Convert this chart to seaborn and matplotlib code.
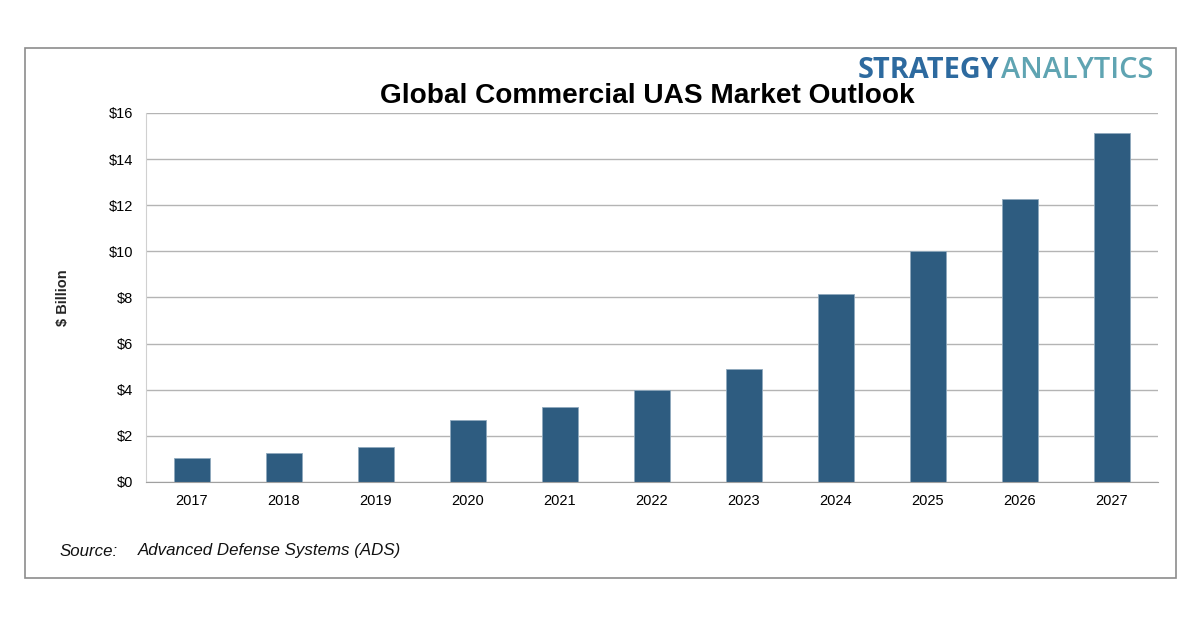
import pandas as pd
import matplotlib.pyplot as plt
import seaborn as sns
from matplotlib.patches import Rectangle

years = ['2017', '2018', '2019', '2020', '2021', '2022', '2023', '2024', '2025', '2026', '2027']
market = [1.04, 1.26, 1.52, 2.68, 3.25, 4.0, 4.9, 8.14, 10.0, 12.27, 15.13]
yticks = [0, 2, 4, 6, 8, 10, 12, 14, 16]

df = pd.DataFrame({'Year': years, 'Market': market})

sns.set_style('white')
plt.rcParams['font.family'] = ['Liberation Sans', 'DejaVu Sans']

fig = plt.figure(figsize=(12, 6.27), dpi=100)
ax = fig.add_axes([0.1217, 0.2313, 0.8433, 0.5885])

sns.barplot(data=df, x='Year', y='Market', color='#2e5c80', width=0.4,
            edgecolor='#8fa9bd', linewidth=0.6, saturation=1, ax=ax)

ax.set_xlim(-0.5, 10.5)
ax.set_ylim(0, 16)
ax.set_yticks(yticks)
ax.set_yticklabels([f'${v}' for v in yticks], fontsize=10.5, color='#000000')
ax.tick_params(axis='x', labelsize=10.5, colors='#000000', pad=9, length=0)
ax.tick_params(axis='y', length=0, pad=9)
ax.grid(True, axis='y', color='#b4b4b4', linewidth=1)
ax.set_axisbelow(True)
ax.set_xlabel('')
ax.set_ylabel('$ Billion', fontsize=10.5, fontweight='bold', labelpad=28)
for s in ['top', 'right']:
    ax.spines[s].set_visible(False)
ax.spines['left'].set_color('#d0d0d0')
ax.spines['bottom'].set_color('#a0a0a0')

# outer frame
fig.patches.append(Rectangle((25 / 1200, 1 - 578 / 627), 1151 / 1200, 530 / 627,
                             transform=fig.transFigure, fill=False,
                             edgecolor='#8c8c8c', linewidth=1.2))

fig.text(0.5392, 1 - 96 / 627, 'Global Commercial UAS Market Outlook',
         ha='center', va='center', fontsize=20.2, fontweight='bold', color='black')

# logo
t1 = fig.text(858 / 1200, 1 - 70 / 627, 'STRATEGY', ha='left', va='center',
              fontsize=20.8, fontweight='bold', color='#2d6a9f', family=['Open Sans', 'DejaVu Sans'])
fig.canvas.draw()
bb = t1.get_window_extent()
fig.text(bb.x1 / 1200 + 0.001, 1 - 70 / 627, 'ANALYTICS', ha='left', va='center',
         fontsize=20.8, fontweight='semibold', color='#5fa4b2', family=['Open Sans', 'DejaVu Sans'])

fig.text(60 / 1200, 1 - 551 / 627, 'Source:', ha='left', va='center',
         fontsize=12.2, style='italic', color='#111111')
fig.text(138 / 1200, 1 - 551 / 627, 'Advanced Defense Systems (ADS)', ha='left', va='center',
         fontsize=12.2, style='italic', color='#111111')

fig.savefig('out.png', dpi=100)
